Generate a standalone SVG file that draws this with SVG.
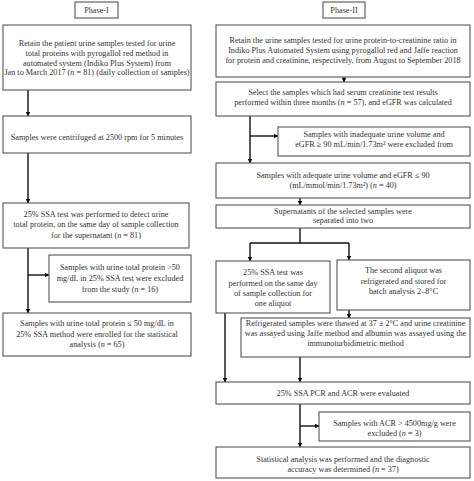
<svg xmlns="http://www.w3.org/2000/svg" width="474" height="481" viewBox="0 0 474 481">
<defs>
<marker id="ah" viewBox="0 0 10 10" refX="9" refY="5" markerWidth="4.5" markerHeight="4.5" orient="auto" markerUnits="userSpaceOnUse">
<path d="M0,0 L10,5 L0,10 z" fill="#111"/>
</marker>
<style>
.b{fill:#fff;stroke:#555;stroke-width:1.1}
.t{font-family:"Liberation Serif","Times New Roman",serif;font-size:8.2px;fill:#333;text-anchor:middle}
.c{fill:none;stroke:#111;stroke-width:1.4}
.a{marker-end:url(#ah)}
.i{font-style:italic}
</style>
</defs>
<rect width="474" height="481" fill="#fff"/>
<g id="connectors">
<line class="c a" x1="28" y1="90" x2="28" y2="116"/>
<line class="c a" x1="28" y1="153" x2="28" y2="203"/>
<line class="c a" x1="28" y1="248" x2="28" y2="313"/>
<line class="c a" x1="28" y1="275" x2="49" y2="275"/>
<line class="c a" x1="344" y1="77" x2="344" y2="82"/>
<line class="c a" x1="250" y1="116" x2="250" y2="163"/>
<line class="c a" x1="250" y1="136" x2="278" y2="136"/>
<line class="c a" x1="300" y1="198" x2="300" y2="205"/>
<polyline class="c" points="300,228 300,243"/>
<line class="c" x1="250" y1="243" x2="349" y2="243"/>
<line class="c a" x1="250" y1="243" x2="250" y2="261"/>
<line class="c a" x1="349" y1="243" x2="349" y2="260"/>
<line class="c a" x1="349" y1="310" x2="349" y2="318"/>
<line class="c a" x1="225" y1="313" x2="225" y2="382"/>
<line class="c a" x1="300" y1="357" x2="300" y2="382"/>
<line class="c a" x1="300" y1="404" x2="300" y2="447"/>
<line class="c a" x1="300" y1="426" x2="319" y2="426"/>
</g>
<g id="phase1">
<rect class="b" x="75" y="2" width="43" height="16"/>
<text class="t" x="96.5" y="12.8">Phase-I</text>
</g>
<g id="phase2">
<rect class="b" x="323" y="2" width="42" height="16"/>
<text class="t" x="344" y="12.8">Phase-II</text>
</g>
<g id="L1">
<rect class="b" x="3" y="25" width="188" height="65"/>
<text class="t" x="97" y="46">Retain the patient urine samples tested for urine</text>
<text class="t" x="97" y="55.8">total proteins with pyrogallol red method in</text>
<text class="t" x="97" y="65.6">automated system (Indiko Plus System) from</text>
<text class="t" x="97" y="75.4">Jan to March 2017 (<tspan class="i">n</tspan> = 81) (daily collection of samples)</text>
</g>
<g id="L2">
<rect class="b" x="3" y="116" width="188" height="37"/>
<text class="t" x="97" y="139.5">Samples were centrifuged at 2500 rpm for 5 minutes</text>
</g>
<g id="L3">
<rect class="b" x="3" y="203" width="186" height="45"/>
<text class="t" x="96" y="217">25% SSA test was performed to detect urine</text>
<text class="t" x="96" y="227.3">total protein, on the same day of sample collection</text>
<text class="t" x="96" y="237.6">for the supernatant (<tspan class="i">n</tspan> = 81)</text>
</g>
<g id="L4">
<rect class="b" x="49" y="255" width="142" height="47"/>
<text class="t" x="120" y="269.5">Samples with urine total protein &gt;50</text>
<text class="t" x="120" y="280.8">mg/dL in 25% SSA test were excluded</text>
<text class="t" x="120" y="292">from the study (<tspan class="i">n</tspan> = 16)</text>
</g>
<g id="L5">
<rect class="b" x="3" y="313" width="188" height="43"/>
<text class="t" x="97" y="326">Samples with urine total protein ≤ 50 mg/dL in</text>
<text class="t" x="97" y="337">25% SSA method were enrolled for the statistical</text>
<text class="t" x="97" y="347">analysis (<tspan class="i">n</tspan> = 65)</text>
</g>
<g id="R1">
<rect class="b" x="216" y="25" width="254" height="52"/>
<text class="t" x="343" y="42.7">Retain the urine samples tested for urine protein-to-creatinine ratio in</text>
<text class="t" x="343" y="52.7">Indiko Plus Automated System using pyrogallol red and Jaffe reaction</text>
<text class="t" x="343" y="62.7">for protein and creatinine, respectively, from August to September 2018</text>
</g>
<g id="R2">
<rect class="b" x="216" y="82" width="254" height="34"/>
<text class="t" x="343" y="94.7">Select the samples which had serum creatinine test results</text>
<text class="t" x="343" y="104.7">performed within three months (<tspan class="i">n</tspan> = 57), and eGFR was calculated</text>
</g>
<g id="R2x">
<rect class="b" x="278" y="127" width="192" height="29"/>
<text class="t" x="374" y="137">Samples with inadequate urine volume and</text>
<text class="t" x="374" y="147">eGFR ≥ 90 mL/min/1.73m² were excluded from</text>
</g>
<g id="R3">
<rect class="b" x="216" y="163" width="254" height="35"/>
<text class="t" x="343" y="178">Samples with adequate urine volume and eGFR ≤ 90</text>
<text class="t" x="343" y="188">(mL/mmol/min/1.73m²) (<tspan class="i">n</tspan> = 40)</text>
</g>
<g id="R4">
<rect class="b" x="216" y="205" width="254" height="23"/>
<text class="t" x="343" y="213.5">Supernatants of the selected samples were</text>
<text class="t" x="343" y="222.5">separated into two</text>
</g>
<g id="R5a">
<rect class="b" x="216" y="261" width="114" height="52"/>
<text class="t" x="273" y="275">25% SSA test was</text>
<text class="t" x="273" y="285.5">performed on the same day</text>
<text class="t" x="273" y="296">of sample collection for</text>
<text class="t" x="273" y="306">one aliquot</text>
</g>
<g id="R5b">
<rect class="b" x="337" y="260" width="133" height="50"/>
<text class="t" x="403.5" y="273">The second aliquot was</text>
<text class="t" x="403.5" y="283.5">refrigerated and stored for</text>
<text class="t" x="403.5" y="294">batch analysis 2–8°C</text>
</g>
<g id="R6">
<rect class="b" x="241" y="318" width="229" height="39"/>
<text class="t" x="355.5" y="325.5">Refrigerated samples were thawed at 37 ± 2°C and urine creatinine</text>
<text class="t" x="355.5" y="336">was assayed using Jaffe method and albumin was assayed using the</text>
<text class="t" x="355.5" y="346">immunoturbidimetric method</text>
</g>
<g id="R7">
<rect class="b" x="216" y="382" width="254" height="22"/>
<text class="t" x="343" y="395.5">25% SSA PCR and ACR were evaluated</text>
</g>
<g id="R8">
<rect class="b" x="319" y="412" width="151" height="29"/>
<text class="t" x="394.5" y="425.5">Samples with ACR &gt; 4500mg/g were</text>
<text class="t" x="394.5" y="435.5">excluded (<tspan class="i">n</tspan> = 3)</text>
</g>
<g id="R9">
<rect class="b" x="216" y="447" width="254" height="31"/>
<text class="t" x="343" y="461.5">Statistical analysis was performed and the diagnostic</text>
<text class="t" x="343" y="471.5">accuracy was determined (<tspan class="i">n</tspan> = 37)</text>
</g>
</svg>
